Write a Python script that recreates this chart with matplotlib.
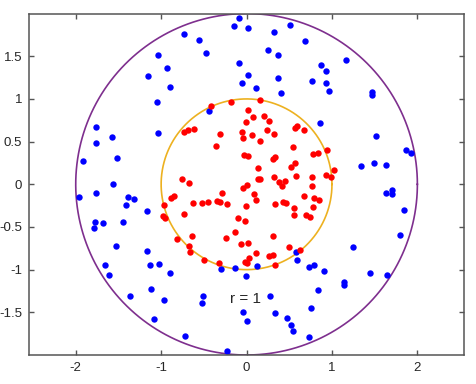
import numpy as np
import matplotlib
matplotlib.use("Agg")
import matplotlib.pyplot as plt

blue_x = [-1.042, -0.937, -1.159, -0.898, -1.054, -1.765, -1.581, -1.765, -1.042, -1.920,
          -1.511, -1.569, -0.090, -0.149, 0.012, -0.734, -0.559, -0.477, 0.316, 0.507,
          0.683, 0.249, 0.367, -0.090, 0.015, -0.055, 0.109, 0.367, 0.402, 0.761,
          0.870, -0.441, 0.862, 0.925, 1.159, 0.925, 0.964, 1.464, 1.464, 1.514,
          1.862, 1.920, 1.491, 1.631, 1.338, -1.964, -1.765, -1.393, -1.320, -1.413,
          -1.171, -1.776, -1.686, -1.788, -1.448, -1.530, -1.164, -1.659, -1.132, -1.027,
          -1.612, -0.902, -1.121, -1.370, -0.968, -1.085, 0.574, 0.589, 0.726, 0.785,
          0.905, -0.301, -0.137, 0.117, -0.012, -0.512, -0.523, 0.269, -0.047, 0.007,
          0.328, 0.472, 0.519, 0.539, 0.749, 0.831, 0.726, -0.722, -0.231, 1.631,
          1.698, 1.701, 1.842, 1.792, 1.241, 1.440, 1.639, 1.136, 1.139]
blue_y = [1.514, 1.362, 1.272, 1.143, 0.964, 0.675, 0.554, 0.487, 0.604, 0.276,
          0.308, 0.000, 1.951, 1.854, 1.834, 1.760, 1.693, 1.537, 1.787, 1.865,
          1.682, 1.576, 1.514, 1.420, 1.283, 1.186, 1.131, 1.248, 1.069, 1.210,
          1.397, 0.858, 0.721, 1.327, 1.459, 1.190, 1.093, 1.085, 1.046, 0.569,
          0.405, 0.370, 0.253, 0.230, 0.218, -0.145, -0.098, -0.145, -0.169, -0.239,
          -0.309, -0.438, -0.450, -0.508, -0.438, -0.719, -0.778, -0.941, -0.941, -0.930,
          -1.062, -1.035, -1.222, -1.304, -1.351, -1.574, -0.789, -0.886, -0.965, -0.945,
          -1.012, -0.992, -0.980, -0.957, -1.074, -1.304, -1.390, -1.304, -1.495, -1.597,
          -1.507, -1.562, -1.648, -1.714, -1.445, -1.234, -1.792, -1.773, -1.952, -0.098,
          -0.067, -0.114, -0.301, -0.590, -0.731, -1.035, -1.062, -1.141, -1.179]

red_x = [-0.422, -0.184, 0.156, 0.015, 0.074, -0.012, 0.199, 0.261, -0.059, -0.043,
         0.059, 0.238, 0.316, 0.156, -0.734, -0.684, -0.617, -0.313, -0.359, -0.032,
         0.012, 0.132, 0.304, 0.328, 0.539, 0.566, 0.589, 0.671, 0.773, 0.835,
         0.566, 0.519, 0.574, 0.316, 0.378, 0.445, 0.761, 0.129, 0.156, -0.761,
         -0.676, 0.000, 0.937, 1.022, 0.925, 0.984, -0.972, -0.890, -0.855, -0.984,
         -0.960, -0.820, -0.047, 0.410, 0.761, 0.085, 0.109, -0.293, -0.351, -0.313,
         -0.227, -0.450, -0.527, -0.629, -0.008, -0.734, -0.105, -0.020, -0.137, -0.246,
         -0.644, -0.676, -0.664, -0.500, -0.328, -0.067, 0.015, 0.105, 0.023, -0.020,
         0.007, 0.312, 0.265, 0.312, 0.328, 0.492, 0.624, 0.328, 0.429, 0.460,
         0.557, 0.550, 0.691, 0.738, 0.773, 0.792, 0.847, 0.671]
red_y = [0.913, 0.964, 0.991, 0.870, 0.788, 0.730, 0.803, 0.741, 0.616, 0.542,
         0.581, 0.636, 0.593, 0.507, 0.612, 0.636, 0.648, 0.593, 0.448, 0.343,
         0.331, 0.191, 0.296, 0.323, 0.437, 0.663, 0.686, 0.636, 0.355, 0.370,
         0.253, 0.203, 0.097, 0.085, 0.030, 0.042, 0.089, 0.066, 0.066, 0.066,
         0.015, -0.012, 0.405, 0.171, 0.109, 0.089, -0.239, -0.160, -0.137, -0.368,
         -0.391, -0.641, -0.043, -0.020, -0.020, -0.114, -0.184, -0.105, -0.199, -0.204,
         -0.231, -0.207, -0.219, -0.219, -0.250, -0.344, -0.395, -0.426, -0.559, -0.625,
         -0.605, -0.722, -0.796, -0.886, -0.922, -0.703, -0.684, -0.801, -0.863, -0.910,
         -0.918, -0.605, -0.840, -0.824, -0.941, -0.731, -0.766, -0.231, -0.204, -0.219,
         -0.278, -0.363, -0.363, -0.379, -0.262, -0.160, -0.184, -0.133]

radii = [2, 1]
circle_colors = ["#7E2F8E", "#EDB120"]
label_text = "r = 1"
label_pos = (-0.19, -1.34)

x_ticks = [-2, -1, 0, 1, 2]
y_ticks = [-1.5, -1, -0.5, 0, 0.5, 1, 1.5]

plt.rcParams['font.family'] = ['Liberation Sans', 'DejaVu Sans']

fig = plt.figure(figsize=(4.76, 3.84), dpi=100)
ax = fig.add_axes([29/476, 29/384, 434.5/476, 341/384])

t = np.linspace(0, 2*np.pi, 400)
for r, c in zip(radii, circle_colors):
    ax.plot(r*np.cos(t), r*np.sin(t), color=c, lw=1.2, zorder=1)

ax.plot(blue_x, blue_y, 'o', color='#0000FF', markersize=4.6, markeredgewidth=0, zorder=2)
ax.plot(red_x, red_y, 'o', color='#FF0000', markersize=4.6, markeredgewidth=0, zorder=2)

ax.text(label_pos[0], label_pos[1], label_text, fontsize=11, color='#262626',
        ha='left', va='center')

ax.set_xlim(-2.547, 2.540)
ax.set_ylim(-2.0, 1.995)
ax.set_xticks(x_ticks)
ax.set_xticklabels([f"{v:g}" for v in x_ticks])
ax.set_yticks(y_ticks)
ax.set_yticklabels([f"{v:g}" for v in y_ticks])
ax.tick_params(direction='in', top=True, right=True, length=3.5, width=1.0,
               labelsize=9.5, colors='#555555', labelcolor='#262626', pad=5)
for s in ax.spines.values():
    s.set_color('#555555')
    s.set_linewidth(1.1)

fig.savefig("out.png", dpi=100)
